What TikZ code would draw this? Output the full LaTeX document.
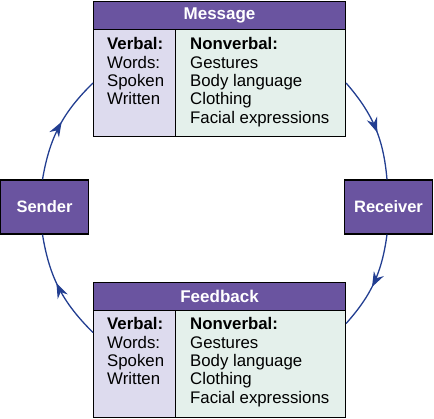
\documentclass[tikz,border=0pt]{standalone}
\usepackage{fontspec}
\setmainfont{Liberation Sans}
\usetikzlibrary{arrows.meta,decorations.markings,calc}
\definecolor{purp}{RGB}{106,84,160}
\definecolor{lav}{RGB}{221,219,238}
\definecolor{mint}{RGB}{228,240,235}
\definecolor{arrowblue}{RGB}{34,62,145}
\begin{document}
\begin{tikzpicture}[x=1pt,y=-1pt,
  hdr/.style={draw=black, line width=1.1pt, fill=purp, text=white,
    font=\bfseries\fontsize{17}{18}\selectfont,
    minimum width=252pt, minimum height=28pt, inner sep=0pt, anchor=north west},
  verbcol/.style={draw=black, line width=1.1pt, fill=lav, minimum width=82pt,
    minimum height=107pt, inner sep=0pt, anchor=north west},
  nonvcol/.style={draw=black, line width=1.1pt, fill=mint, minimum width=170pt,
    minimum height=107pt, inner sep=0pt, anchor=north west},
  side/.style={draw=black, line width=1.1pt, fill=purp, text=white,
    font=\bfseries\fontsize{16.5}{18}\selectfont,
    minimum width=88pt, minimum height=54pt, inner sep=0pt},
  body/.style={font=\fontsize{16.8}{18.3}\selectfont, align=left,
    anchor=north west, inner sep=0pt},
  flow/.style={draw=arrowblue, line width=1.3pt,
    decoration={markings, mark=at position 0.55 with
      {\arrow{Stealth[length=15pt,width=11pt,inset=5pt]}}},
    postaction={decorate}, color=arrowblue}
]
\useasboundingbox (0,0) rectangle (434,418);

% Message
\node[hdr] (mhead) at (93,1) {Message};
\node[verbcol] (mverb) at (93,29) {};
\node[nonvcol] (mnon) at (175,29) {};
\node[body] (mvtext) at (107,37.5) {\textbf{Verbal:}\\Words:\\Spoken\\Written};
\node[body] (mntext) at (190,37.5) {\textbf{Nonverbal:}\\Gestures\\Body language\\Clothing\\Facial expressions};

% Feedback
\node[hdr] (fhead) at (93,281.5) {Feedback};
\node[verbcol] (fverb) at (93,309.5) {};
\node[nonvcol] (fnon) at (175,309.5) {};
\node[body] (fvtext) at (107,317.5) {\textbf{Verbal:}\\Words:\\Spoken\\Written};
\node[body] (fntext) at (190,317.5) {\textbf{Nonverbal:}\\Gestures\\Body language\\Clothing\\Facial expressions};

% Sender / Receiver
\node[side] (sender) at (44.5,207) {Sender};
\node[side] (receiver) at (388.5,207) {Receiver};

% connector end points on the boxes
\coordinate (mL) at ($(mverb.north west)+(0,54)$);
\coordinate (mR) at ($(mnon.north east)+(0,54)$);
\coordinate (fR) at ($(fnon.north east)+(0,14)$);
\coordinate (fL) at ($(fverb.north west)+(0,23)$);

\draw[flow] ($(sender.north)+(-2,0)$) to[bend left=18] (mL);
\draw[flow] (mR) to[bend left=18] ($(receiver.north)+(-1.5,0)$);
\draw[flow] ($(receiver.south)+(-1.5,0)$) to[bend left=17] (fR);
\draw[flow] (fL) to[bend left=18] ($(sender.south)+(-2,0)$);
\end{tikzpicture}
\end{document}
